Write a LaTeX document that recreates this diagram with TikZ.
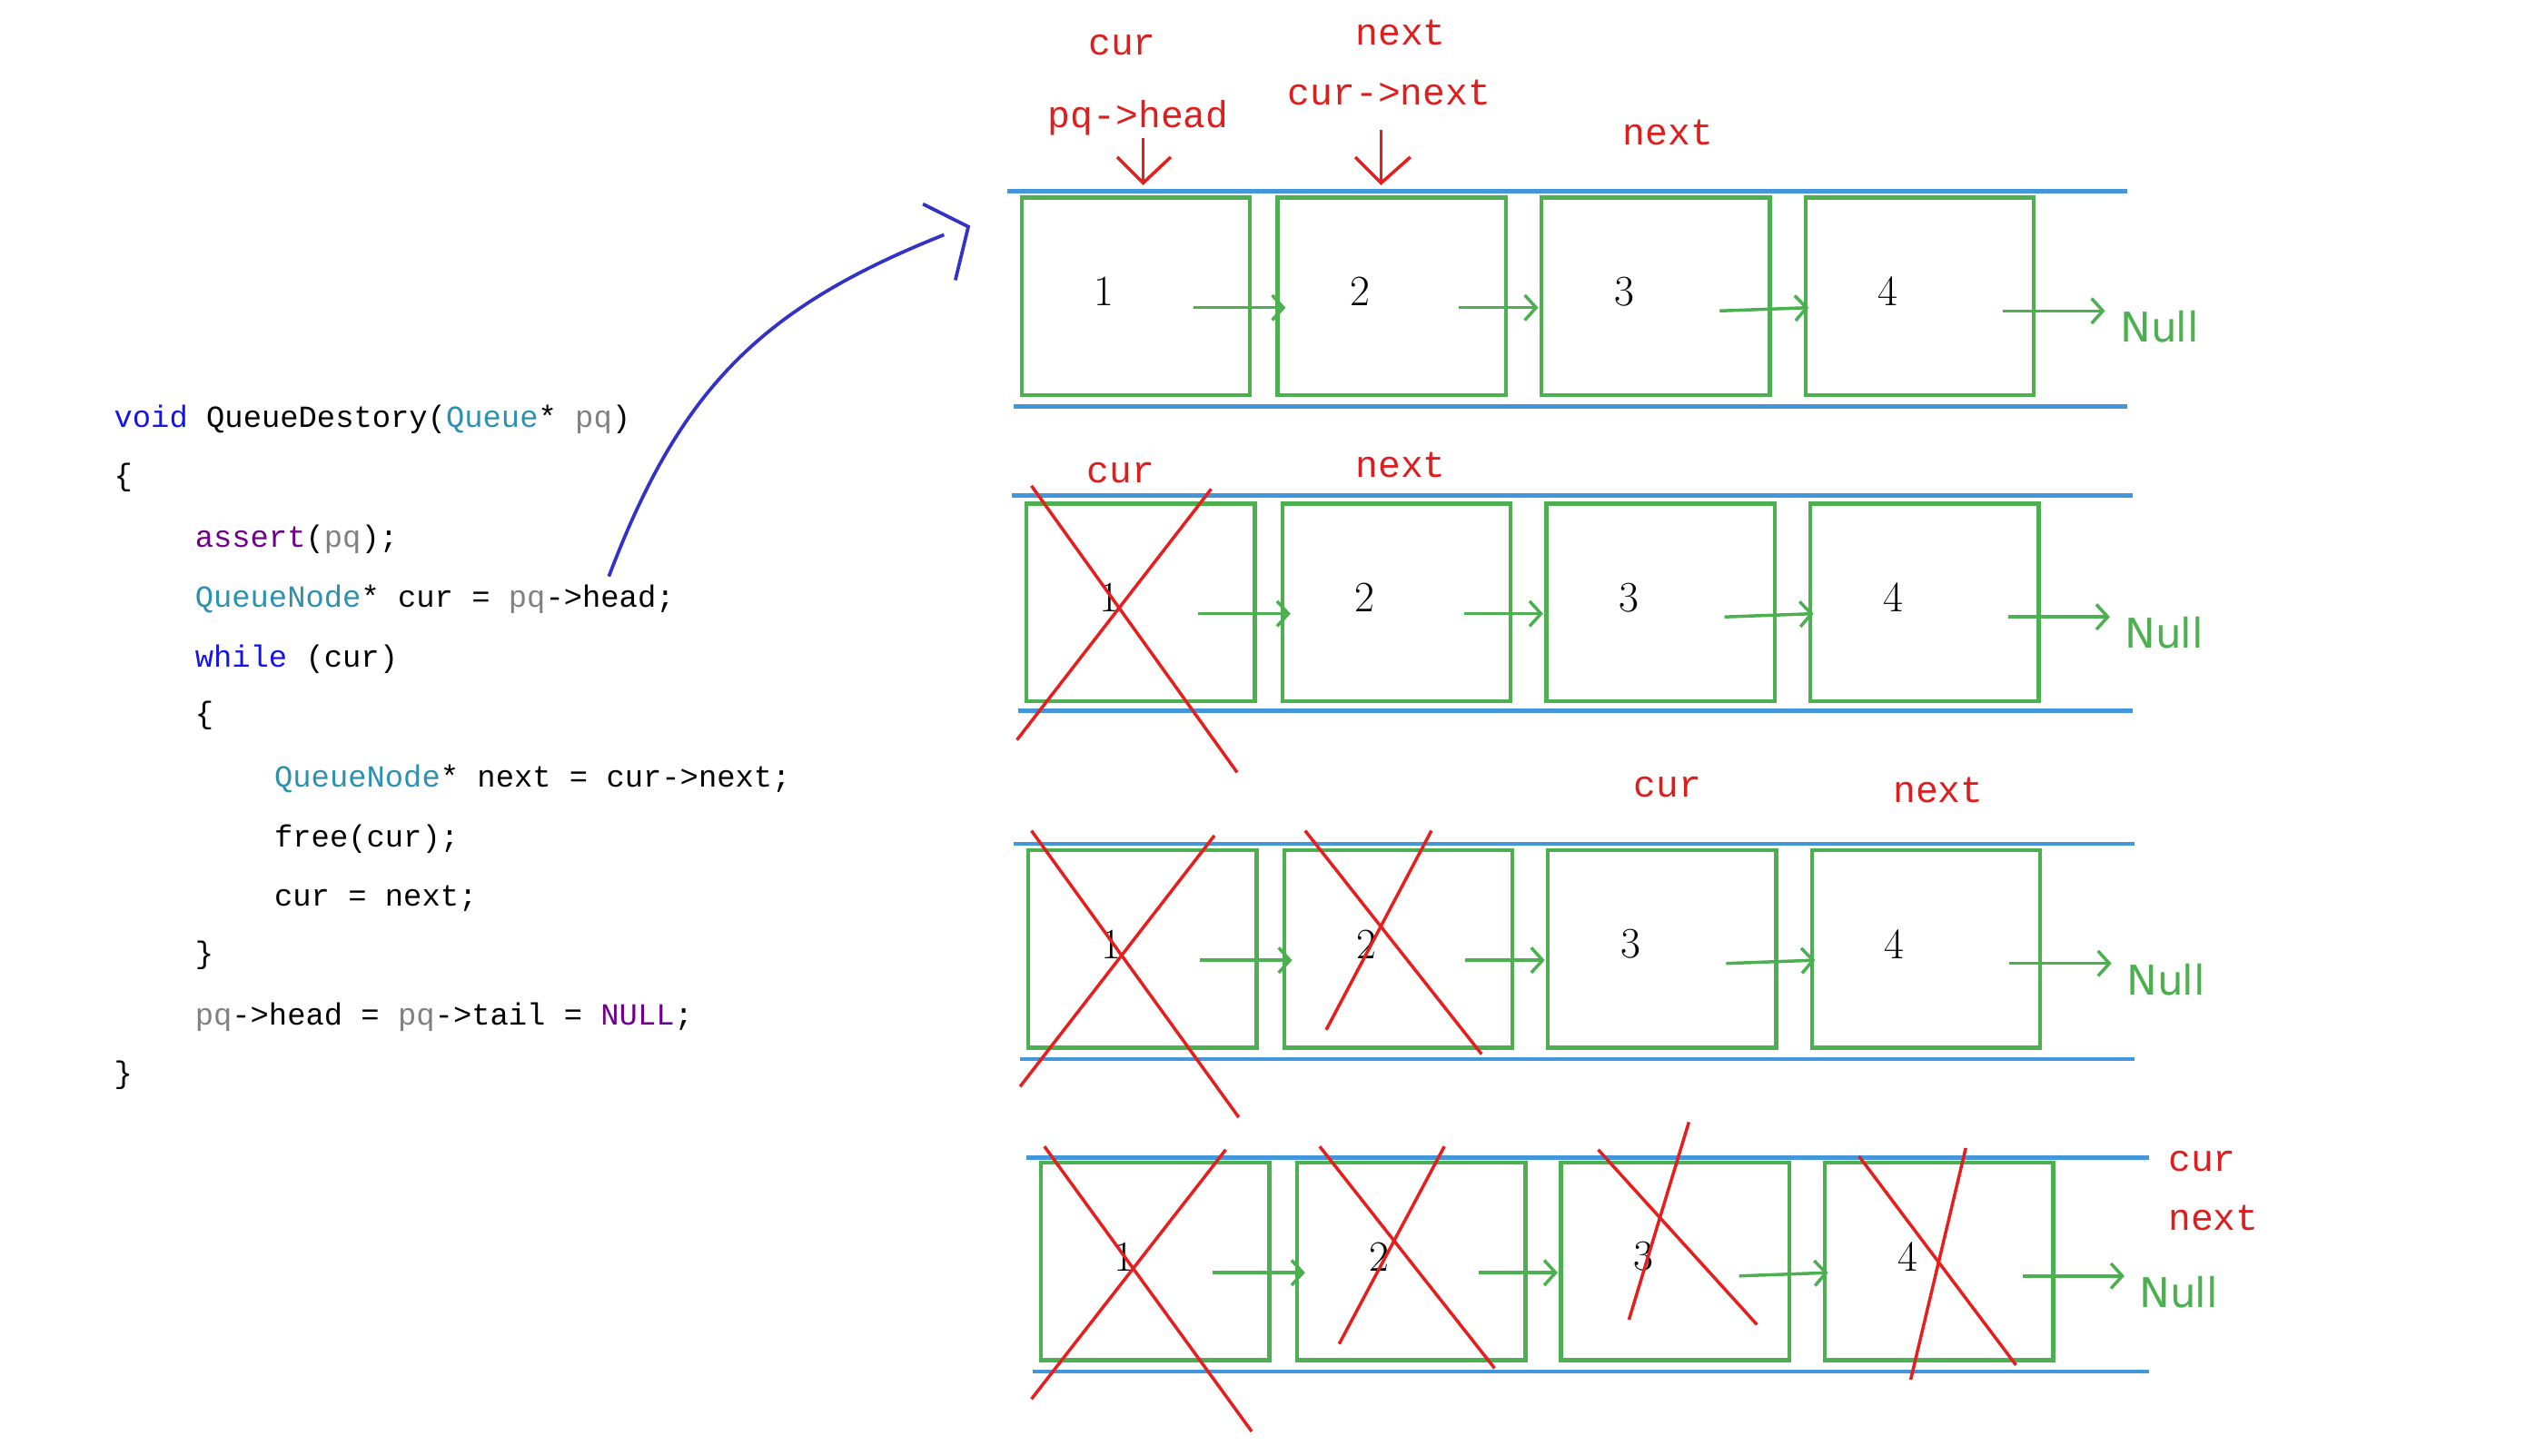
\documentclass[tikz,border=0pt]{standalone}
\usepackage{fontspec}
\usetikzlibrary{arrows.meta}
\setmonofont{Liberation Mono}
\newfontfamily\nullf{DejaVu Sans}
\begin{document}
\begin{tikzpicture}[x=0.05cm,y=-0.05cm,
 box/.style={line width=3.5pt,draw={rgb,255:red,76;green,175;blue,80}},
 bl/.style={draw={rgb,255:red,66;green,150;blue,220},line width=3.5pt},
 ga/.style={draw={rgb,255:red,76;green,175;blue,80},line width=2.8pt,-{Straight Barb[length=10pt,width=22pt]}},
 rx/.style={draw={rgb,255:red,230;green,30;blue,30},line width=2.8pt},
 rl/.style={text={rgb,255:red,220;green,30;blue,30},font=\ttfamily\fontsize{33}{33}\selectfont},
 num/.style={font=\fontsize{38}{38}\selectfont},
 nul/.style={text={rgb,255:red,76;green,175;blue,80},font=\nullf\fontsize{36}{36}\selectfont},
 code/.style={anchor=west,font=\ttfamily\fontsize{27}{27}\selectfont}]
\useasboundingbox (0,0) rectangle (1560,899);
\definecolor{kw}{RGB}{20,20,230}\definecolor{ty}{RGB}{43,145,175}\definecolor{gr}{RGB}{128,128,128}\definecolor{pu}{RGB}{111,0,138}
% code
\node[code] (c1) at (68,259) {\textcolor{kw}{void} QueueDestory(\textcolor{ty}{Queue}* \textcolor{gr}{pq})};
\node[code] (c2) at (68,295) {\{};
\node[code] (c3) at (118,333) {\textcolor{pu}{assert}(\textcolor{gr}{pq});};
\node[code] (c4) at (118,370) {\textcolor{ty}{QueueNode}* cur = \textcolor{gr}{pq}->head;};
\node[code] (c5) at (118,407) {\textcolor{kw}{while} (cur)};
\node[code] (c6) at (118,442) {\{};
\node[code] (c7) at (167,481) {\textcolor{ty}{QueueNode}* next = cur->next;};
\node[code] (c8) at (167,518) {free(cur);};
\node[code] (c9) at (167,555) {cur = next;};
\node[code] (c10) at (118,590) {\}};
\node[code] (c11) at (118,628) {\textcolor{gr}{pq}->head = \textcolor{gr}{pq}->tail = \textcolor{pu}{NULL};};
\node[code] (c12) at (68,664) {\}};
% blue arrow
\coordinate (bs) at (376,356); \coordinate (be) at (583,145);
\draw[draw={rgb,255:red,50;green,50;blue,200},line width=3pt] (bs) .. controls (420,240) and (470,190) .. (be);
\draw[draw={rgb,255:red,50;green,50;blue,200},line width=3pt] (570,126) -- (598,140) -- (590,173);
% rows
\foreach \r/\xa/\xb/\xc/\xd/\ty/\la/\lb/\lx in {1/631/789/952/1115/122/118/251/1314,2/634/792/955/1118/311/306/439/1317,3/635/793/956/1119/525/521/654/1318,4/643/801/964/1127/718/715/847/1327}{
 \draw[bl] (\xa-9,\la) -- (\lx,\la);
 \draw[bl] (\xa-5,\lb) -- (\lx,\lb);
 \foreach \x/\n in {\xa/1,\xb/2,\xc/3,\xd/4}{
  \node[box,minimum width=141*0.05cm,minimum height=122*0.05cm,anchor=north west,inner sep=0,outer sep=0] (b\r\n) at (\x,\ty) {};
  \node[num] (t\r\n) at (\x+51,\ty+58) {\n};
 }
 \draw[ga] (\xa+106,\ty+68) -- (\xb+5,\ty+68);
 \draw[ga] (\xb+112,\ty+68) -- (\xc-2,\ty+68);
 \draw[ga] (\xc+110,\ty+70) -- (\xd+2,\ty+68);
 \draw[ga] (\xd+122,\ty+70) -- (\xd+185,\ty+70);
 \node[nul,anchor=west] (n\r) at (\xd+192,\ty+80) {Nu\kern-1pt ll};
}
% labels
\node[rl] (l1) at (693,28) {cur};
\node[rl] (l2) at (703,73) {pq->head};
\node[rl] (l3) at (865,20) {next};
\node[rl] (l4) at (858,57) {cur->next};
\node[rl] (l5) at (1030,82) {next};
\node[rl] (l6) at (692,292) {cur};
\node[rl] (l7) at (865,287) {next};
\node[rl] (l8) at (1030,486) {cur};
\node[rl] (l9) at (1197,488) {next};
\node[rl] (l10) at (1360,717) {cur};
\node[rl] (l11) at (1367,752) {next};
\draw[rx] (706,85) -- (706,113); \draw[rx] (690,97) -- (706,113) -- (723,97);
\draw[rx] (853,80) -- (853,113); \draw[rx] (837,97) -- (853,113) -- (871,97);
% crosses
\draw[rx] (637,300) -- (764,477); \draw[rx] (748,302) -- (628,457);
\draw[rx] (637,513) -- (765,690); \draw[rx] (750,516) -- (630,671);
\draw[rx] (806,513) -- (915,651); \draw[rx] (884,513) -- (819,636);
\draw[rx] (645,708) -- (773,884); \draw[rx] (757,710) -- (637,864);
\draw[rx] (815,708) -- (923,845); \draw[rx] (892,708) -- (827,830);
\draw[rx] (987,710) -- (1085,818); \draw[rx] (1043,693) -- (1006,815);
\draw[rx] (1148,714) -- (1245,843); \draw[rx] (1214,709) -- (1180,852);
\end{tikzpicture}
\end{document}
